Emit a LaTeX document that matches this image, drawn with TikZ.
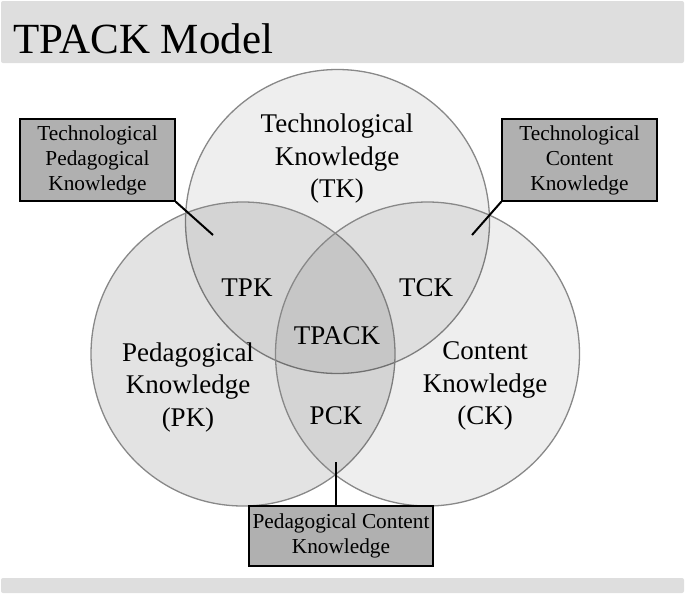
\documentclass[tikz,border=0pt]{standalone}
\usepackage{fontspec}
\setmainfont{Liberation Serif}
\usetikzlibrary{positioning,calc}

\definecolor{bargray}{HTML}{DEDEDE}
\definecolor{boxgray}{HTML}{B0B0B0}
\definecolor{ringline}{HTML}{888888}

\tikzset{
  ring/.style={circle, draw=ringline, line width=1.3pt, fill=black, fill opacity=#1, minimum size=304pt, inner sep=0pt},
  area/.style={align=center, font=\fontsize{27}{32.5}\selectfont},
  callout/.style={draw=black, line width=1.4pt, fill=boxgray, align=center, font=\fontsize{21.3}{25}\selectfont, inner sep=0pt},
  leader/.style={line width=2pt}
}

\begin{document}
\begin{tikzpicture}[x=1pt, y=-1pt]
  \useasboundingbox (0,0) rectangle (685,595);

  % bars
  \fill[bargray, rounded corners=2pt] (1,1) rectangle (684,63);
  \fill[bargray, rounded corners=2pt] (1,578) rectangle (684,593);
  \node[anchor=base west, inner sep=0pt, font=\fontsize{43}{50}\selectfont] (title) at (13,53) {TPACK Model};

  % the three circles
  \node[ring=0.067] (tk) at (337.5,221.5) {};
  \node[ring=0.11] (pk) at (243,354) {};
  \node[ring=0.067] (ck) at (427.5,354) {};

  % labels inside
  \node[area] (tklabel) at (337,159) {Technological\\Knowledge\\(TK)};
  \node[area] (pklabel) at (188,387) {Pedagogical\\Knowledge\\(PK)};
  \node[area] (cklabel) at (485,386) {Content\\Knowledge\\(CK)};
  \node[area] (tpk) at (247,288) {TPK};
  \node[area] (tck) at (426,288) {TCK};
  \node[area] (tpack) at (337,336) {TPACK};
  \node[area] (pck) at (336,416) {PCK};

  % callouts
  \node[callout, minimum width=155pt, minimum height=82pt] (tpkbox) at (97.5,160) {Technological\\Pedagogical\\Knowledge};
  \node[callout, minimum width=155pt, minimum height=82pt] (tckbox) at (579.5,160) {Technological\\Content\\Knowledge};
  \node[callout, minimum width=184pt, minimum height=60pt] (pckbox) at (341,536) {Pedagogical Content\\Knowledge};

  \coordinate (tpkend) at (213,235);
  \coordinate (tckend) at (472,235);
  \coordinate (pckend) at (336,462);
  \draw[leader] (tpkbox.south east) -- (tpkend);
  \draw[leader] (tckbox.south west) -- (tckend);
  \draw[leader] (pckbox.north -| pckend) -- (pckend);
\end{tikzpicture}
\end{document}
